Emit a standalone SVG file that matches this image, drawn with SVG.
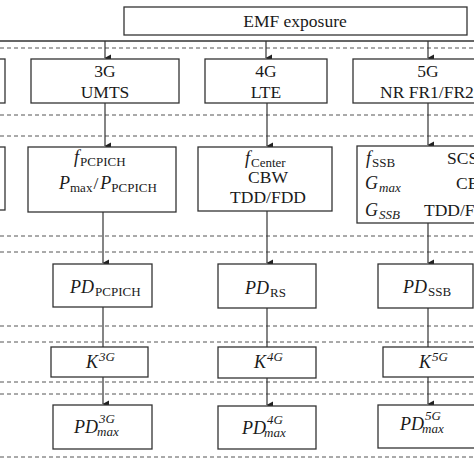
<svg xmlns="http://www.w3.org/2000/svg" width="474" height="474" viewBox="0 0 474 474">
<style>
.box{fill:#fff;stroke:#333;stroke-width:1.3}
.dash{stroke:#555;stroke-width:1;stroke-dasharray:4 3;fill:none}
.ln{stroke:#333;stroke-width:1.2;fill:none}
.t{font-size:17.5px}
.c{text-anchor:middle}
.i{font-style:italic;font-size:18px}
.s{font-size:13px;font-style:normal}
.si{font-style:italic;font-size:13px}
</style>
<defs>
<marker id="ah" markerWidth="8" markerHeight="8" refX="4" refY="7" orient="auto" markerUnits="userSpaceOnUse" viewBox="0 0 8 8">
<path d="M0.5,1 L7.5,1 L4,7.5 Z" fill="#222"/>
</marker>
</defs>
<rect width="474" height="474" fill="#fff"/>
<g id="guides">
<line class="dash" x1="0" y1="48" x2="474" y2="48"/>
<line class="dash" x1="0" y1="115" x2="474" y2="115"/>
<line class="dash" x1="0" y1="136" x2="474" y2="136"/>
<line class="dash" x1="0" y1="236" x2="474" y2="236"/>
<line class="dash" x1="0" y1="252" x2="474" y2="252"/>
<line class="dash" x1="0" y1="326" x2="474" y2="326"/>
<line class="dash" x1="0" y1="342" x2="474" y2="342"/>
<line class="dash" x1="0" y1="382" x2="474" y2="382"/>
<line class="dash" x1="0" y1="394" x2="474" y2="394"/>
<line class="dash" x1="0" y1="457" x2="474" y2="457"/>
</g>
<g id="connectors">
<line class="ln" x1="0" y1="41" x2="474" y2="41" style="stroke-width:1.6"/>
<line class="ln" x1="105" y1="41" x2="105" y2="58" marker-end="url(#ah)"/>
<line class="ln" x1="266" y1="41" x2="266" y2="58" marker-end="url(#ah)"/>
<line class="ln" x1="428" y1="41" x2="428" y2="58" marker-end="url(#ah)"/>
<line class="ln" x1="105" y1="103" x2="105" y2="146" marker-end="url(#ah)"/>
<line class="ln" x1="267" y1="103" x2="267" y2="146" marker-end="url(#ah)"/>
<line class="ln" x1="428" y1="103" x2="428" y2="145" marker-end="url(#ah)"/>
<line class="ln" x1="103" y1="212" x2="103" y2="263" marker-end="url(#ah)"/>
<line class="ln" x1="267" y1="211" x2="267" y2="263" marker-end="url(#ah)"/>
<line class="ln" x1="428" y1="223" x2="428" y2="263" marker-end="url(#ah)"/>
<line class="ln" x1="103" y1="307" x2="103" y2="347"/>
<line class="ln" x1="267" y1="308" x2="267" y2="347"/>
<line class="ln" x1="428" y1="308" x2="428" y2="347"/>
<line class="ln" x1="103" y1="377" x2="103" y2="404" marker-end="url(#ah)"/>
<line class="ln" x1="267" y1="378" x2="267" y2="405" marker-end="url(#ah)"/>
<line class="ln" x1="428" y1="377" x2="428" y2="404" marker-end="url(#ah)"/>
</g>
<g font-family="'Liberation Serif', 'DejaVu Serif', 'Times New Roman', serif" fill="#1a1a1a">
<g id="emf">
<rect class="box" x="124" y="7" width="343" height="28"/>
<text class="t c" x="295" y="27">EMF exposure</text>
</g>
<g id="left-row1"><rect class="box" x="-10" y="59" width="15" height="44"/></g>
<g id="left-row2"><rect class="box" x="-10" y="147" width="15" height="63"/></g>
<g id="n3g">
<rect class="box" x="31" y="59" width="148" height="44"/>
<text class="t c" x="105" y="77">3G</text>
<text class="t c" x="105" y="98">UMTS</text>
</g>
<g id="n4g">
<rect class="box" x="205" y="59" width="122" height="44"/>
<text class="t c" x="266" y="77">4G</text>
<text class="t c" x="266" y="98">LTE</text>
</g>
<g id="n5g">
<rect class="box" x="353" y="59" width="130" height="44"/>
<text class="t c" x="428" y="77">5G</text>
<text class="t" x="380" y="98">NR FR1/FR2</text>
</g>
<g id="p3g">
<rect class="box" x="28" y="147" width="148" height="65"/>
<text class="i" x="74" y="163">f<tspan class="s" dx="1" dy="3">PCPICH</tspan></text>
<text class="i" x="59" y="189">P<tspan class="s" dy="3">max</tspan><tspan class="t" style="font-style:normal" dx="1" dy="-3">/</tspan><tspan dx="2">P</tspan><tspan class="s" dy="3">PCPICH</tspan></text>
</g>
<g id="p4g">
<rect class="box" x="198" y="147" width="134" height="64"/>
<text class="i" x="245" y="164">f<tspan class="s" dx="1" dy="3">Center</tspan></text>
<text class="t c" x="268" y="183">CBW</text>
<text class="t c" x="268" y="203">TDD/FDD</text>
</g>
<g id="p5g">
<rect class="box" x="357" y="146" width="126" height="77"/>
<text class="i" x="366" y="164">f<tspan class="s" dx="1" dy="3">SSB</tspan></text>
<text class="i" x="365" y="189">G<tspan class="si" dx="1" dy="3">max</tspan></text>
<text class="i" x="365" y="216">G<tspan class="si" dx="1" dy="3">SSB</tspan></text>
<text class="t" x="447" y="164">SCS</text>
<text class="t" x="456" y="189">CBW</text>
<text class="t" x="424" y="216">TDD/FDD</text>
</g>
<g id="pd3g">
<rect class="box" x="53" y="264" width="99" height="43"/>
<text class="i" x="70" y="293">PD<tspan class="s" dx="1" dy="3">PCPICH</tspan></text>
</g>
<g id="pd4g">
<rect class="box" x="218" y="264" width="98" height="44"/>
<text class="i" x="245" y="294">PD<tspan class="s" dx="1" dy="3">RS</tspan></text>
</g>
<g id="pd5g">
<rect class="box" x="378" y="264" width="95" height="44"/>
<text class="i" x="403" y="293">PD<tspan class="s" dx="1" dy="3">SSB</tspan></text>
</g>
<g id="k3g">
<rect class="box" x="51" y="347" width="97" height="30"/>
<text class="i" x="86" y="368">K<tspan class="si" dx="1" dy="-7">3G</tspan></text>
</g>
<g id="k4g">
<rect class="box" x="218" y="347" width="98" height="31"/>
<text class="i" x="254" y="368">K<tspan class="si" dx="1" dy="-7">4G</tspan></text>
</g>
<g id="k5g">
<rect class="box" x="383" y="347" width="95" height="30"/>
<text class="i" x="419" y="368">K<tspan class="si" dx="1" dy="-7">5G</tspan></text>
</g>
<g id="max3g">
<rect class="box" x="53" y="405" width="99" height="44"/>
<text class="i" x="74" y="433">PD<tspan class="si" dx="1" dy="-10">3G</tspan><tspan class="si" x="97" dy="13">max</tspan></text>
</g>
<g id="max4g">
<rect class="box" x="218" y="406" width="98" height="43"/>
<text class="i" x="242" y="434">PD<tspan class="si" dx="1" dy="-10">4G</tspan><tspan class="si" x="264" dy="13">max</tspan></text>
</g>
<g id="max5g">
<rect class="box" x="378" y="405" width="100" height="43"/>
<text class="i" x="400" y="430">PD<tspan class="si" dx="1" dy="-10">5G</tspan><tspan class="si" x="422" dy="13">max</tspan></text>
</g>
</g>
</svg>
